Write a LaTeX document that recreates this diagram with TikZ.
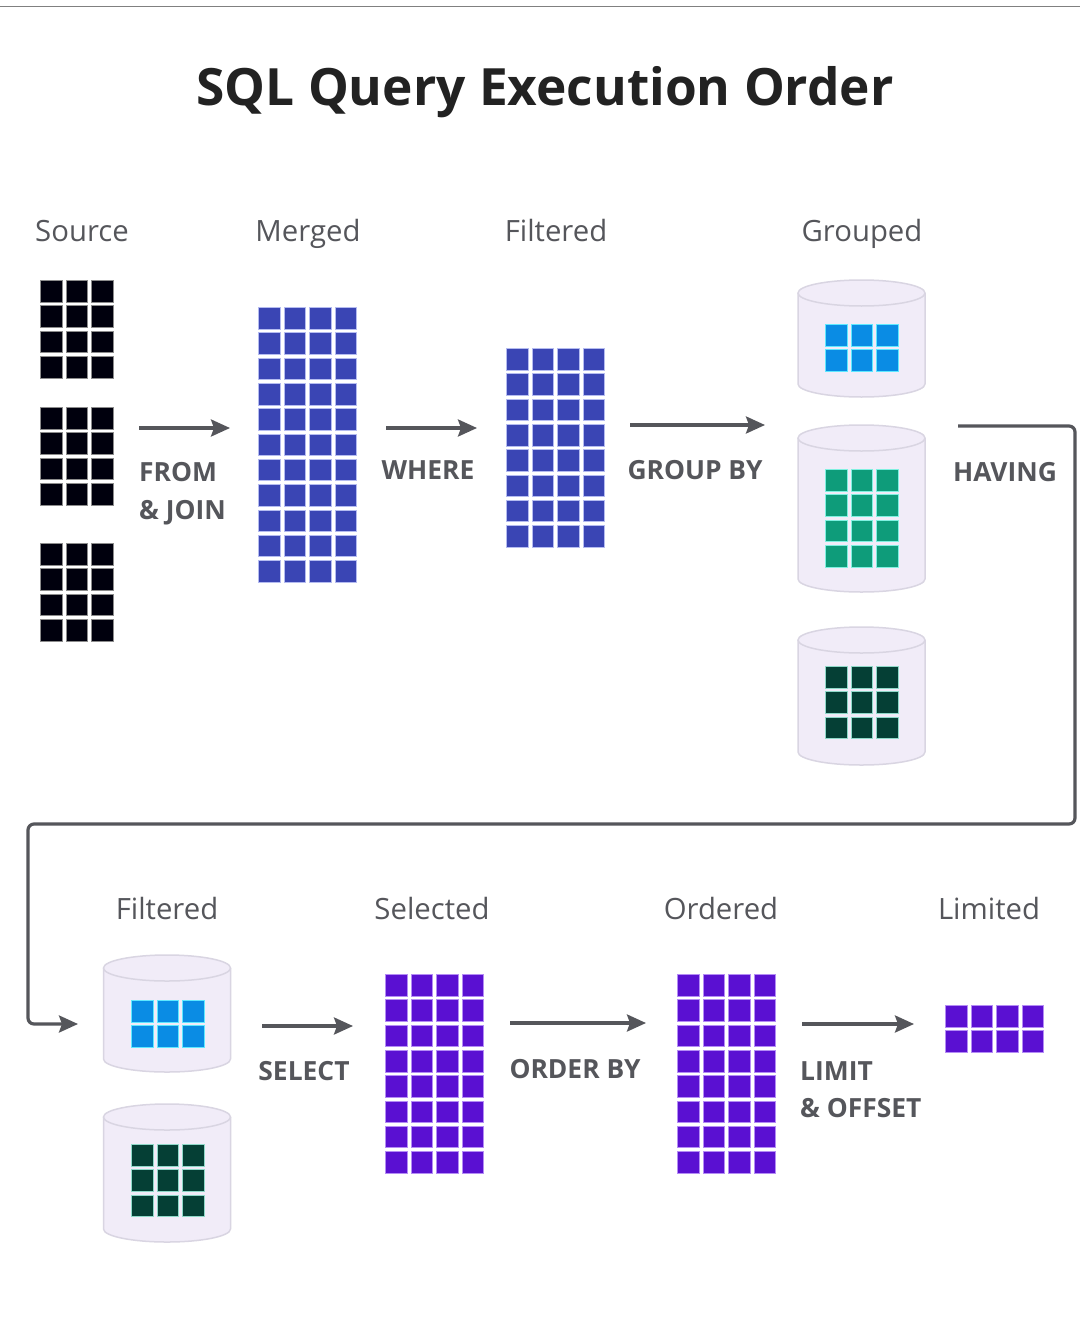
\documentclass[tikz,border=0pt]{standalone}
\usepackage{fontspec}
\setmainfont{Open Sans}
\usetikzlibrary{arrows.meta}
\definecolor{titlegray}{HTML}{222222}
\definecolor{labelgray}{HTML}{55565B}
\definecolor{flowgray}{HTML}{55565B}
\definecolor{drumfill}{HTML}{F1ECF8}
\definecolor{drumedge}{HTML}{D9D5E2}
\definecolor{indigo}{HTML}{3A45B4}
\definecolor{indigoedge}{HTML}{B4BBF0}
\definecolor{violetcell}{HTML}{5A10D2}
\definecolor{violetedge}{HTML}{B48CF5}
\definecolor{skycell}{HTML}{0A8CE4}
\definecolor{skyedge}{HTML}{5FE8FF}
\definecolor{tealcell}{HTML}{0E9C7A}
\definecolor{tealedge}{HTML}{7FF0E0}
\definecolor{pinecell}{HTML}{053F35}
\definecolor{pineedge}{HTML}{8FD8C8}
\tikzset{
  stagelabel/.style={anchor=base, inner sep=0pt, text=labelgray, font=\fontsize{29.3}{29.3}\selectfont},
  steplabel/.style={anchor=base, inner sep=0pt, text=labelgray, font=\fontsize{26.4}{26.4}\selectfont\bfseries},
  flow/.style={draw=flowgray, line width=3.2pt, -{Stealth[length=19pt,width=17pt,inset=3pt]}},
  drum/.style={fill=drumfill, draw=drumedge, line width=1.5pt},
  blackcell/.style={fill=black!95!blue, draw=black!45!white, line width=0.8pt},
  indigocell/.style={fill=indigo, draw=indigoedge, line width=0.8pt},
  purplecell/.style={fill=violetcell, draw=violetedge, line width=0.8pt},
  bluecell/.style={fill=skycell, draw=skyedge, line width=0.8pt},
  greencell/.style={fill=tealcell, draw=tealedge, line width=0.8pt},
  darkcell/.style={fill=pinecell, draw=pineedge, line width=0.8pt},
}
% x, y of the top left cell, columns, rows, style
\newcommand{\cellgrid}[5]{
  \foreach \col in {1,...,#3}
    \foreach \row in {1,...,#4}
      \path [#5] ({#1+0.5+(\col-1)*25.6},{#2+0.5+(\row-1)*25.3}) rectangle ++(21.5,21.5);
}
% left x, top y, bottom y
\newcommand{\drumbody}[3]{
  \draw [drum] (#1,#2+13) -- (#1,#3-13) arc [start angle=180, end angle=0, x radius=63.5, y radius=13] -- (#1+127,#2+13);
  \draw [drum] (#1+63.5,#2+13) ellipse [x radius=63.5, y radius=13];
}
\begin{document}
\begin{tikzpicture}[x=1pt,y=-1pt]
  \useasboundingbox [fill=white] (0,0) rectangle (1080,1319);
  % Top rule and title
  \draw [gray, line width=1.5pt] (0,6.5) -- (1080,6.5);
  \node (title) [anchor=base, text=titlegray, font=\fontsize{51.4}{51.4}\selectfont\bfseries] at (545,106) {SQL Query Execution Order};
  % Stage names
  \node (source) [stagelabel] at (82,241) {Source};
  \node (merged) [stagelabel] at (308,241) {Merged};
  \node (filteredA) [stagelabel] at (556,241) {Filtered};
  \node (grouped) [stagelabel] at (862,241) {Grouped};
  \node (filteredB) [stagelabel] at (167,919) {Filtered};
  \node (selected) [stagelabel] at (432,919) {Selected};
  \node (ordered) [stagelabel] at (721,919) {Ordered};
  \node (limited) [stagelabel] at (989,919) {Limited};
  % Step names
  \node (from) [steplabel, anchor=base west] at (139,481) {FROM};
  \node (join) [steplabel, anchor=base west] at (139,519) {\& JOIN};
  \node (where) [steplabel] at (428,479) {WHERE};
  \node (groupby) [steplabel] at (695,479) {GROUP BY};
  \node (having) [steplabel] at (1005,481) {HAVING};
  \node (select) [steplabel] at (304,1080) {SELECT};
  \node (orderby) [steplabel] at (575,1078) {ORDER BY};
  \node (limit) [steplabel, anchor=base west] at (800,1080) {LIMIT};
  \node (offset) [steplabel, anchor=base west] at (800,1117) {\& OFFSET};
  % Tables
  \cellgrid{40}{280}{3}{4}{blackcell}
  \cellgrid{40}{407}{3}{4}{blackcell}
  \cellgrid{40}{543}{3}{4}{blackcell}
  \cellgrid{258}{307}{4}{11}{indigocell}
  \cellgrid{506}{348}{4}{8}{indigocell}
  \cellgrid{385}{974}{4}{8}{purplecell}
  \cellgrid{677}{974}{4}{8}{purplecell}
  \cellgrid{945}{1005}{4}{2}{purplecell}
  % Groups
  \drumbody{798}{280}{397}
  \drumbody{798}{425}{592}
  \drumbody{798}{627}{765}
  \drumbody{103.5}{955}{1072}
  \drumbody{103.5}{1104}{1242}
  \cellgrid{825}{324}{3}{2}{bluecell}
  \cellgrid{825}{469}{3}{4}{greencell}
  \cellgrid{825}{666}{3}{3}{darkcell}
  \cellgrid{131}{1000}{3}{2}{bluecell}
  \cellgrid{131}{1144}{3}{3}{darkcell}
  % Arrow ends
  \coordinate (fromstart) at (139,428);
  \coordinate (fromend) at (230,428);
  \coordinate (wherestart) at (386,428);
  \coordinate (whereend) at (477,428);
  \coordinate (groupstart) at (630,425);
  \coordinate (groupend) at (765,425);
  \coordinate (havingstart) at (958,426);
  \coordinate (havingend) at (78,1024);
  \coordinate (selectstart) at (262,1026);
  \coordinate (selectend) at (353,1026);
  \coordinate (orderstart) at (510,1023);
  \coordinate (orderend) at (646,1023);
  \coordinate (limitstart) at (802,1024);
  \coordinate (limitend) at (914,1024);
  % Arrows
  \draw [flow] (fromstart) -- (fromend);
  \draw [flow] (wherestart) -- (whereend);
  \draw [flow] (groupstart) -- (groupend);
  \draw [flow, rounded corners=6pt] (havingstart) -- (1075,426) -- (1075,824) -- (28,824) -- (28,1024) -- (havingend);
  \draw [flow] (selectstart) -- (selectend);
  \draw [flow] (orderstart) -- (orderend);
  \draw [flow] (limitstart) -- (limitend);
\end{tikzpicture}
\end{document}
